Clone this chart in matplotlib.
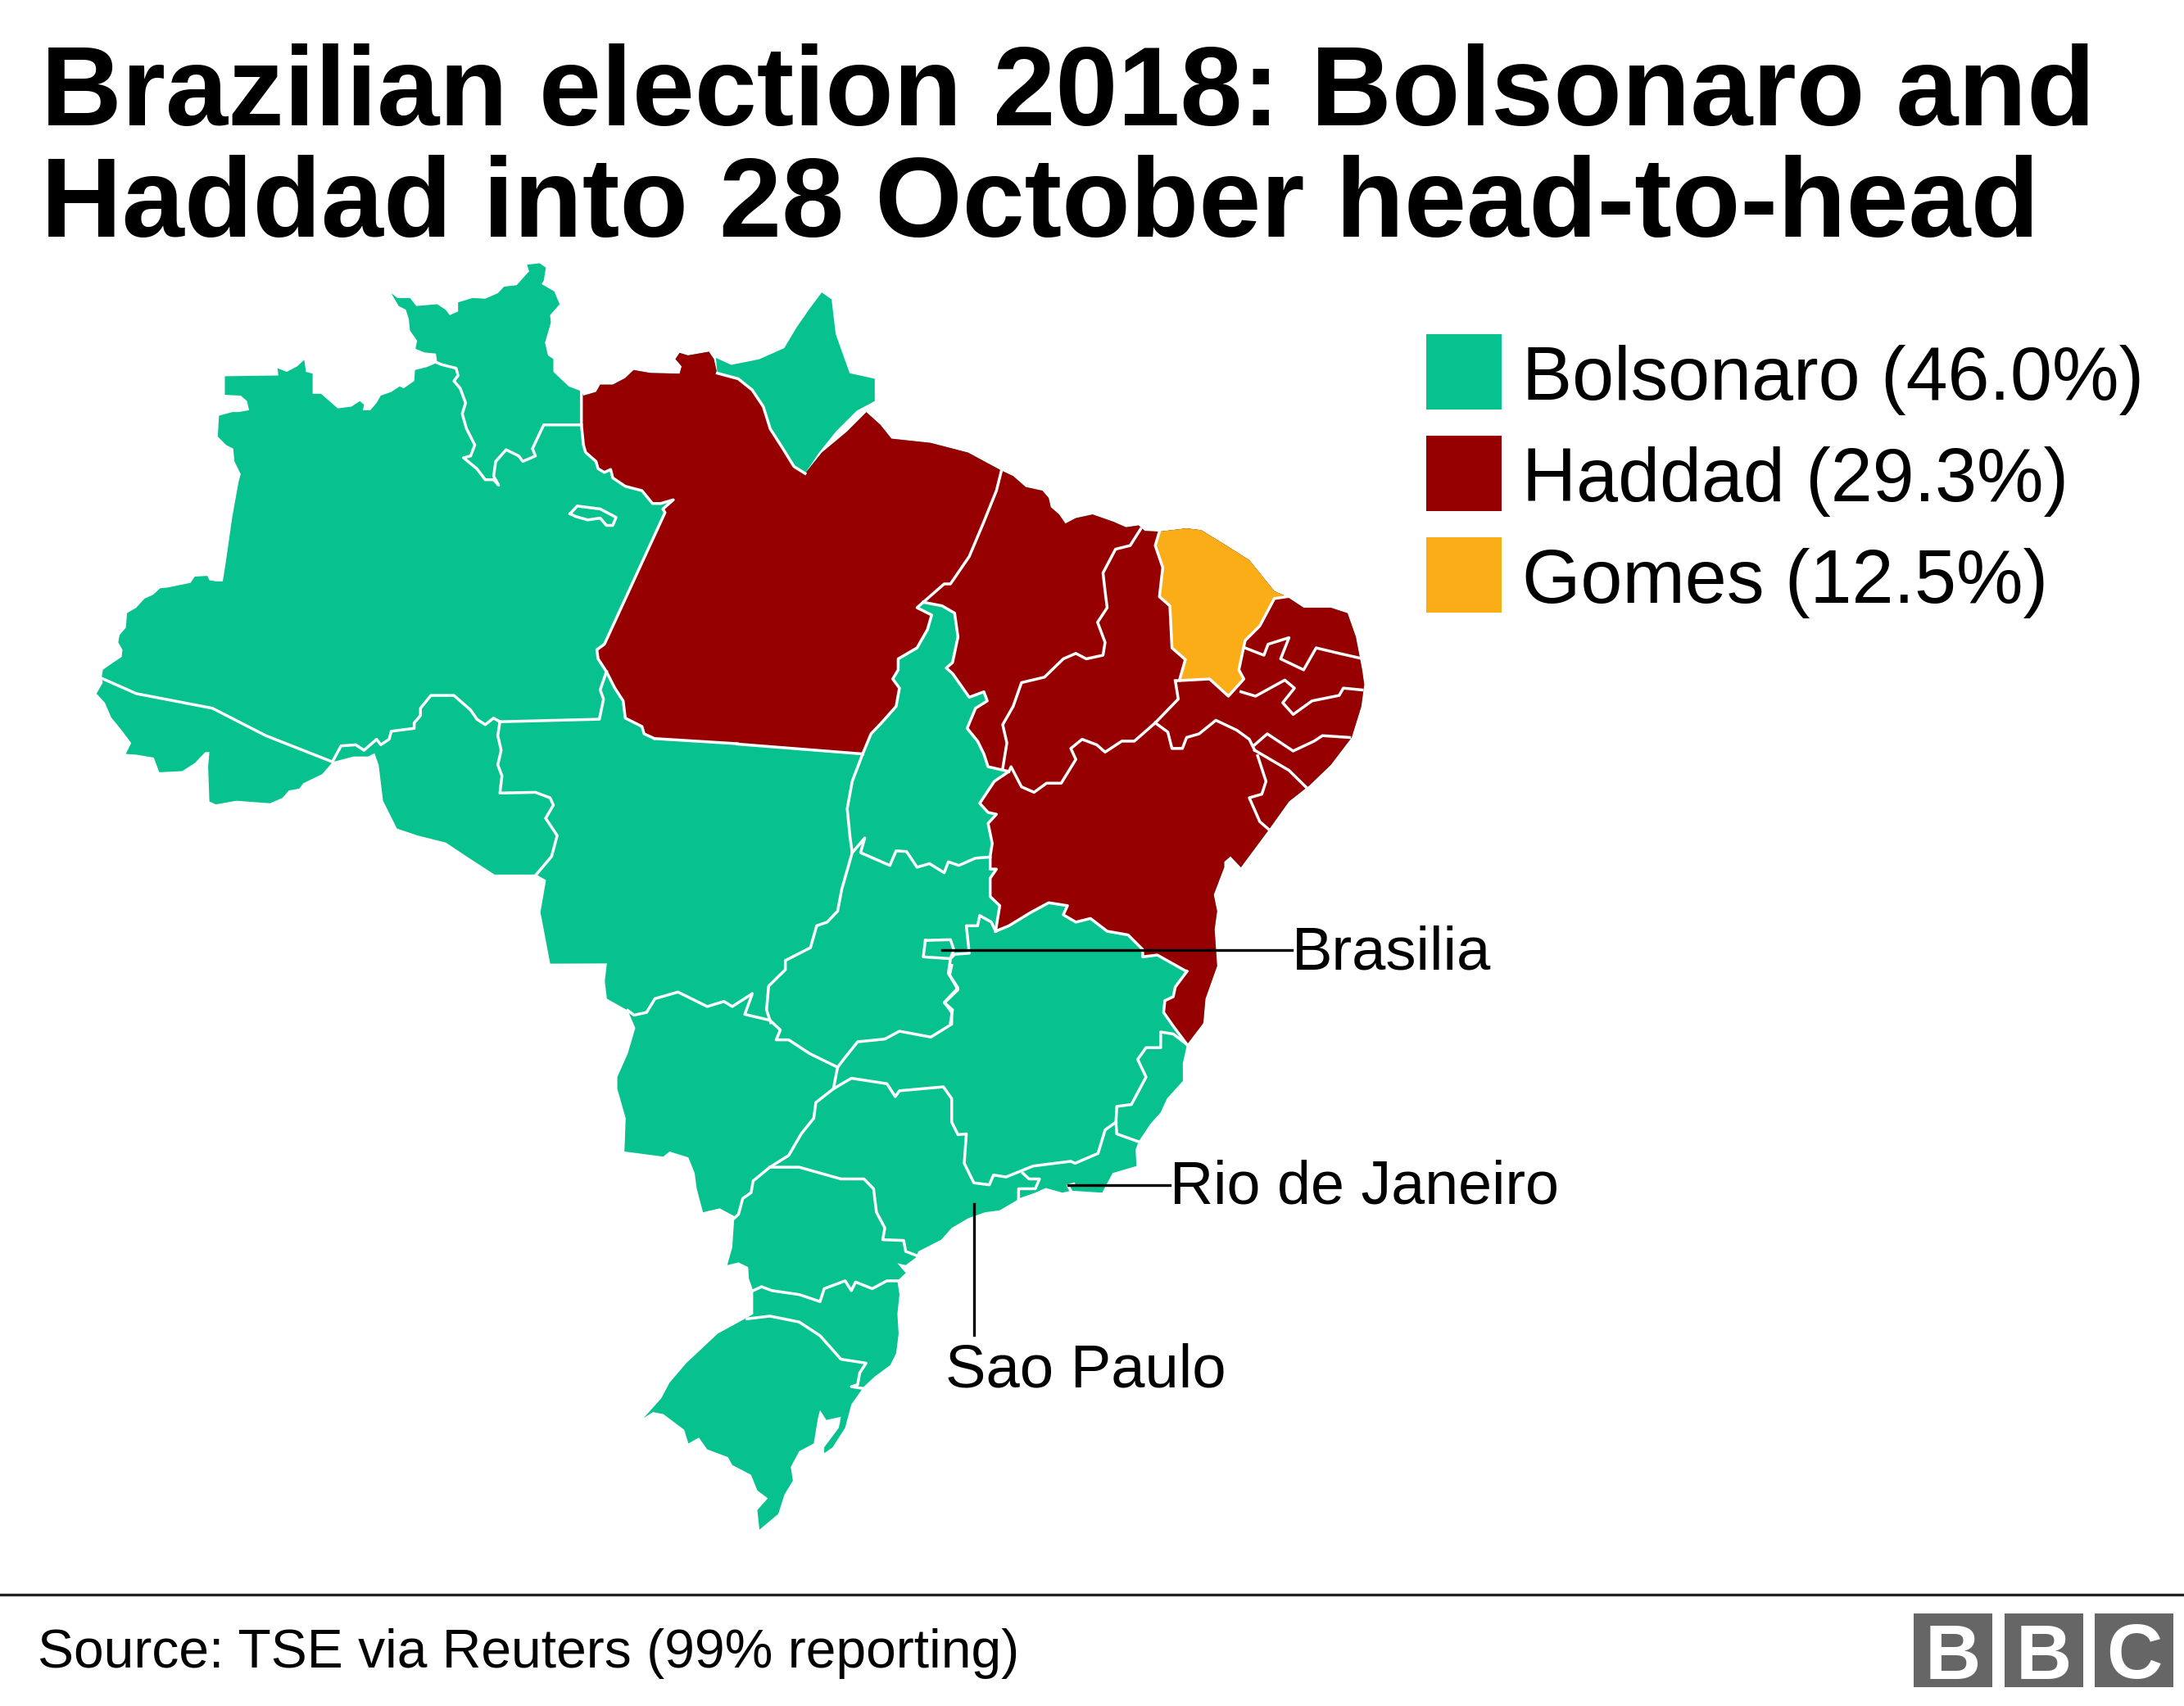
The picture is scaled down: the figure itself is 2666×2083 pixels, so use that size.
import matplotlib
matplotlib.use("Agg")
import matplotlib.pyplot as plt
import numpy as np

plt.rcParams["font.family"] = ["Liberation Sans", "DejaVu Sans"]

GREEN = "#07c18f"
RED = "#960000"
ORANGE = "#fbad18"
W, H = 2666, 2083

Z1 = (100, 300, 1.96, 2.24)
Z2 = (900, 550, 1.96, 2.24)
Z3 = (700, 1150, 1.96, 2.09)
V = (0, 0, 1 / 1.7003, 1 / 1.7003)


def px(frame, pts):
    ox, oy, sx, sy = frame
    a = np.array(pts, dtype=float)
    return np.column_stack([ox + a[:, 0] / sx, oy + a[:, 1] / sy])


# coast, clockwise from the Acre tip
coast_nw = [(47,1183),(50,1160),(75,1140),(95,1125),(97,1105),(87,1085),(90,1065),(105,1045),(108,1005),(130,990),
    (150,965),(170,955),(187,937),(205,935),(260,922),(270,905),(300,903),(305,915),(320,918),(337,918),(345,860),
    (360,740),(375,645),(380,625),(365,590),(362,555),(345,545),(325,522),(328,465),(360,455),(375,455),(400,450),
    (395,425),(380,410),(342,408),(342,357),(470,355),(468,335),(490,345),(515,330),(532,312),(536,345),(552,350),
    (552,405),(572,405),(612,445),(645,440),(665,425),(675,435),(672,450),(690,450),(705,430),(715,410),(740,400),
    (760,385),(770,390),(795,370),(797,340),(825,332),(850,320),(847,295),(820,292),(798,282),(802,260),(785,232),
    (782,200),(775,175),(758,165),(740,130),(755,143),(785,143),(800,165),(850,160),(870,175),(880,190),(900,180),
    (900,155),(935,143),(965,145),(995,130),(1010,112),(1040,108),(1070,70),(1065,52),(1095,48),(1110,60),(1105,95),
    (1100,105),(1130,125),(1143,160),(1120,190),(1122,210),(1108,265),(1115,300),(1128,310),(1128,345),(1165,385),(1195,398)]
coast_pa_z1 = [(1195,398),(1200,410),(1230,400),(1240,380),(1270,380),(1300,362),(1320,340),(1360,348),(1430,350),
    (1435,330),(1420,310),(1430,293),(1450,300),(1500,290),(1512,310),(1520,350)]
ap_pa = [(515,268),(530,272),(540,280),(548,292),(553,308),(562,322),(570,335),(578,340)]
coast_ap = [(515,268),(514,257),(525,262),(545,258),(563,250),(572,235),(581,222),(590,210),(597,215),(600,240),
    (610,268),(628,272),(628,288),(615,295),(600,310),(588,325),(578,340)]
coast_pa_v = [(578,340),(590,325),(608,310),(622,296),(632,305),(640,315),(668,318),(695,325)]
coast_ne = [(632,55),(660,70),(690,100),(730,110),(745,130),(750,155),(770,175),(785,200),(810,185),(850,175),
    (900,195),(930,210),(960,205),(975,220),(1010,222)]
coast_ce = [(1010,222),(1075,213),(1110,218),(1170,260),(1225,300),(1285,385),(1315,400)]
coast_e = [(1315,400),(1355,430),(1420,430),(1460,445),(1480,510),(1495,600),(1500,640),(1493,700),(1470,785),
    (1420,860),(1370,915),(1320,960),(1270,1040),(1205,1140),(1180,1110),(1165,1125),(1165,1140),(1140,1215),
    (1148,1260),(1142,1310),(1148,1410),(1120,1500),(1115,1565)]
coast_se = [(1505,210),(1468,262),(1458,310),(1458,355),(1420,400),(1405,435),(1380,465),(1352,510),(1345,530),
    (1347,572),(1290,590),(1265,640),(1190,635),(1170,640),(1130,628),(1105,640),(1065,655),(1060,660),(1020,685),
    (985,690),(945,705),(905,730),(880,760),(825,790),(820,805),(795,825),(775,820),(795,845),(775,865),(780,900),
    (775,950),(778,1000),(772,1050),(758,1080),(720,1110),(695,1135),(665,1180),(650,1240),(620,1290),(600,1305),
    (600,1290),(635,1240),(640,1212),(605,1220),(590,1195),(585,1215),(575,1280),(540,1300),(520,1340),(525,1375),
    (505,1410),(490,1460),(445,1500),(440,1450),(465,1420),(440,1400),(425,1360),(380,1335),(370,1315),(320,1295),
    (300,1265),(275,1280),(265,1245),(215,1205),(190,1200),(168,1215),(210,1165),(230,1125),(270,1075),(320,1025),
    (345,1000),(410,962),(430,950),(430,890),(420,860),(418,830),(395,818),(368,825),(380,780),(385,700),(350,680),
    (310,690),(295,630),(290,590),(275,550),(230,535),(215,548),(122,535),(125,450),(105,375),(105,345),(130,285),
    (148,220),(130,175),(80,145),(75,100),(80,55)]
coast_sw_v = [(395,692),(388,655),(392,632),(385,628),(355,628),(335,615),(320,605),(300,600),(285,595),(275,575)]
coast_ro = [(710,1420),(700,1388),(685,1397),(650,1397),(600,1412),(575,1445),(530,1470),(520,1485),(495,1490),
    (480,1510),(450,1525),(370,1518),(320,1528),(305,1520),(302,1425),(305,1385),(295,1385),(270,1415),(240,1437),
    (185,1440),(172,1400),(130,1392),(105,1390),(118,1360),(95,1325),(70,1290),(55,1250),(35,1225),(50,1195),(47,1183)]

# inner borders
to_east = [(445,415),(490,425),(520,445),(528,510),(515,580),(500,595),(515,610),(555,675),(590,660),(598,685),
    (570,705),(550,760),(575,795),(590,830),(600,865),(650,878),(615,905),(580,965),(600,990),(620,995),(600,1020),
    (610,1075),(605,1110),(605,1145),(620,1145),(605,1170),(605,1220),(628,1245),(618,1315)]
ba_mg = [(618,1315),(650,1300),(700,1265),(745,1237),(790,1245),(780,1270),(810,1290),(845,1280),(885,1315),
    (935,1325),(970,1365),(970,1385),(1005,1380),(1075,1425)]
ba_mg_s = [(1468,75),(1440,115),(1435,140),(1415,150),(1412,180),(1435,215),(1468,262)]
to_west = [(445,415),(430,430),(465,450),(455,490),(430,540),(385,570),(385,600),(372,625),(388,650),(380,700),
    (345,745),(320,775),(300,830)]
to_mt = [(300,830),(275,905),(263,980),(270,1060),(275,1100),(250,1200),(240,1260),(215,1290),(190,1300),(175,1360),
    (115,1395),(115,1420),(75,1465),(70,1530),(80,1565)]
to_go = [(275,1100),(305,1060),(295,1100),(365,1135),(380,1095),(405,1097),(430,1140),(460,1130),(495,1155),
    (505,1125),(530,1135),(570,1115),(605,1112)]
pa_mt_z2 = [(300,830),(0,803)]
pa_mt_z1 = [(1568,1362),(1370,1348)]
pa_west = [(1370,1348),(1345,1335),(1340,1315),(1300,1292),(1295,1245),(1275,1210),(1255,1165),(1235,1130),
    (1232,1105),(1250,1090),(1395,730),(1390,720),(1415,695),(1385,705),(1365,705),(1340,670),(1300,658),(1270,635),
    (1265,612),(1250,620),(1235,610),(1230,590),(1205,565),(1200,545),(1195,490),(1195,398)]
am_mt = [(1255,1165),(1240,1215),(1248,1240),(1238,1295),(1000,1302)]
am_ro = [(1000,1302),(985,1292),(965,1310),(945,1295),(930,1270),(905,1245),(890,1230),(835,1230),(810,1265),
    (810,1285),(795,1305),(795,1320),(740,1328),(735,1350),(715,1365),(705,1350),(675,1380),(655,1365),(620,1368),(600,1410)]
ac_am = [(47,1183),(130,1225),(312,1265),(440,1340),(600,1412)]
ro_mt = [(1000,1302),(995,1340),(1003,1380),(995,1420),(1005,1450),(1000,1497),(1085,1495),(1120,1510),(1128,1530),(1110,1565)]
ro_mt_v = [(392,588),(400,600),(396,615),(385,628)]
am_rr = [(850,320),(860,325),(895,335),(900,355),(890,370),(905,390),(918,430),(910,460),(920,500),(940,545),
    (930,575),(913,580),(945,610),(965,640),(985,640),(997,655),(985,630),(990,590),(1015,558),(1045,575),(1055,590),
    (1085,575),(1078,555),(1105,490),(1195,490)]
am_island = [(1168,733),(1185,712),(1240,720),(1278,743),(1270,765),(1255,765),(1240,745),(1210,750),(1180,740),(1168,733)]
ma_pa = [(632,55),(620,110),(590,195),(555,290),(510,365),(495,365),(445,415)]
ma_pi = [(965,215),(940,260),(905,270),(875,335),(880,385),(885,430),(862,470),(880,525),(875,560),(835,570),
    (810,555),(780,570),(735,620),(680,635),(660,700),(635,750),(645,800),(635,870)]
pi_ba = [(650,878),(655,865),(680,920),(710,935),(740,910),(775,910),(810,845),(798,815),(825,790),(860,805),
    (880,825),(920,795),(950,795),(1000,745)]
pi_pe = [(1000,745),(1055,680),(1048,630)]
ce_south = [(1048,630),(1130,625),(1175,672),(1212,625),(1200,600),(1215,520),(1250,480),(1285,405),(1315,400)]
ce_west = [(1010,222),(1000,260),(1018,320),(1010,400),(1035,425),(1040,540),(1072,572),(1058,628)]
pb_rn = [(1215,540),(1260,560),(1270,530),(1320,512),(1300,570),(1355,600),(1385,540),(1440,555),(1490,568)]
pb_pe = [(1205,660),(1240,672),(1310,628),(1333,650),(1305,690),(1330,722),(1375,685),(1440,670),(1450,650),(1495,655)]
pe_ba = [(1000,745),(1030,770),(1040,815),(1065,815),(1075,785),(1105,775),(1145,738),(1195,765),(1225,790),(1238,820)]
pe_al = [(1238,805),(1268,775),(1330,822),(1380,795),(1400,780),(1465,785)]
al_ba = [(1238,820),(1320,875),(1360,920)]
se_ba = [(1245,835),(1265,905),(1255,940),(1225,950),(1250,1015),(1270,1035)]
df = [(450,1340),(510,1338),(518,1365),(510,1390),(445,1385),(450,1340)]
go_mg_z2 = [(618,1315),(608,1290),(580,1272),(575,1300),(548,1300),(555,1375),(520,1378),(510,1390),(505,1430),
    (528,1470),(495,1510),(515,1530),(510,1565)]
go_mg_z3 = [(905,60),(900,85),(920,122),(888,155),(905,180),(905,210),(855,243),(780,228),(745,248),(680,255),(650,295),(632,320)]
go_ms = [(632,320),(565,285),(515,250),(485,250),(495,225),(470,200),(410,185),(428,132),(380,165),(360,152),
    (320,165),(250,128),(195,145),(175,180),(145,187),(130,175)]
ms_sp = [(632,320),(622,375),(580,410),(575,450),(545,490),(515,545),(470,575),(430,610),(425,640),(405,655),(395,695),(385,705)]
sp_mg = [(622,375),(665,348),(750,362),(770,395),(780,380),(885,370),(905,400),(905,460),(920,492),(940,490),
    (935,565),(958,615),(995,620),(1005,595),(1035,600),(1100,572),(1190,560),(1200,565),(1255,540),(1272,480),(1298,460)]
mg_es = [(1298,460),(1300,420),(1335,415),(1370,345),(1350,300),(1370,270),(1405,270),(1405,230),(1435,235),(1468,262)]
es_rj = [(1298,460),(1300,490),(1352,510)]
sp_rj = [(1075,590),(1090,605),(1115,605),(1105,630),(1065,630),(1065,655)]
sp_pr = [(470,575),(540,575),(640,605),(695,605),(718,630),(725,690),(745,730),(740,760),(790,762),(795,790),(820,800)]
pr_sc = [(430,890),(450,880),(475,890),(540,900),(590,918),(600,885),(650,865),(665,890),(675,868),(715,885),(750,865),(775,865)]
sc_rs = [(415,962),(470,955),(540,970),(590,1005),(640,1065),(700,1075),(685,1100),(680,1130),(665,1135),(695,1140)]
rio_bay = [(1190,635),(1183,622),(1197,618)]

borders_z1 = [pa_west, am_mt, am_ro, ac_am, ro_mt, am_rr, am_island, pa_mt_z1]
borders_z2 = [to_east, ba_mg, to_west, to_mt, to_go, pa_mt_z2, ma_pa, ma_pi, pi_ba, pi_pe, ce_south, ce_west,
    pb_rn, pb_pe, pe_ba, pe_al, al_ba, se_ba, df, go_mg_z2]
borders_z3 = [ba_mg_s, go_mg_z3, go_ms, ms_sp, sp_mg, mg_es, es_rj, sp_rj, sp_pr, pr_sc, sc_rs, rio_bay]
borders_v = [ro_mt_v, ap_pa]

legend_names = ["Bolsonaro (46.0%)", "Haddad (29.3%)", "Gomes (12.5%)"]
legend_colours = [GREEN, RED, ORANGE]
cities = ["Brasilia", "Rio de Janeiro", "Sao Paulo"]

fig = plt.figure(figsize=(W / 100, H / 100), dpi=100, facecolor="white")
ax = fig.add_axes([0, 0, 1, 1])
ax.set_xlim(0, W); ax.set_ylim(H, 0); ax.axis("off")

# land
land = np.vstack([px(Z1, coast_nw), px(Z1, coast_pa_z1), px(V, ap_pa), px(V, coast_pa_v), px(Z2, coast_ne),
    px(Z2, coast_ce), px(Z2, coast_e), px(Z3, coast_se), px(V, coast_sw_v), px(Z1, coast_ro)])
ax.fill(land[:, 0], land[:, 1], color=GREEN, lw=0, zorder=1)
ap = px(V, coast_ap + ap_pa[::-1])
ax.fill(ap[:, 0], ap[:, 1], color=GREEN, lw=0, zorder=1)

red = np.vstack([px(Z1, coast_pa_z1), px(V, ap_pa), px(V, coast_pa_v), px(Z2, coast_ne), px(Z2, coast_ce),
    px(Z2, coast_e), px(Z3, coast_se[:2]), px(Z3, ba_mg_s[::-1]), px(Z2, ba_mg[::-1]), px(Z2, to_east[::-1]),
    px(Z2, to_west), px(Z2, pa_mt_z2), px(Z1, pa_mt_z1), px(Z1, pa_west)])
ax.fill(red[:, 0], red[:, 1], color=RED, lw=0, zorder=2)

orange = np.vstack([px(Z2, coast_ce), px(Z2, ce_south[::-1]), px(Z2, ce_west[::-1])])
ax.fill(orange[:, 0], orange[:, 1], color=ORANGE, lw=0, zorder=3)

for frame, lines in [(Z1, borders_z1), (Z2, borders_z2), (Z3, borders_z3), (V, borders_v)]:
    for line in lines:
        p = px(frame, line)
        ax.plot(p[:, 0], p[:, 1], color="white", lw=2.5, solid_joinstyle="round", zorder=4)

# callouts
ax.plot([1150, 1577], [1160, 1160], color="black", lw=2.4, zorder=5)
ax.plot([1304, 1428], [1447, 1447], color="black", lw=2.4, zorder=5)
ax.plot([1189, 1189], [1470, 1630], color="black", lw=2.4, zorder=5)
ax.text(1577, 1183, cities[0], fontsize=53.5, va="baseline")
ax.text(1428, 1470, cities[1], fontsize=53, va="baseline")
ax.text(1154, 1694, cities[2], fontsize=53.5, va="baseline")

# title
ax.text(50, 153, "Brazilian election 2018: Bolsonaro and", fontsize=98.5, fontweight="bold", va="baseline")
ax.text(50, 289, "Haddad into 28 October head-to-head", fontsize=98.5, fontweight="bold", va="baseline")

# legend
for i, (name, colour) in enumerate(zip(legend_names, legend_colours)):
    y = 408 + i * 124
    ax.add_patch(plt.Rectangle((1741, y), 92, 92, color=colour, lw=0))
    ax.text(1858, y + 80, name, fontsize=66, va="baseline")

# footer
ax.plot([0, W], [1947, 1947], color="#222222", lw=2.4)
ax.text(46, 2036, "Source: TSE via Reuters (99% reporting)", fontsize=47.5, va="baseline")
for x0, letter in zip([2336, 2447, 2557], "BBC"):
    ax.add_patch(plt.Rectangle((x0, 1970), 96, 90, color="#666666", lw=0))
    ax.text(x0 + 48, 2015, letter, fontsize=68, color="white", fontweight="bold", ha="center", va="center_baseline")

fig.savefig("out.png", dpi=100, facecolor="white")
